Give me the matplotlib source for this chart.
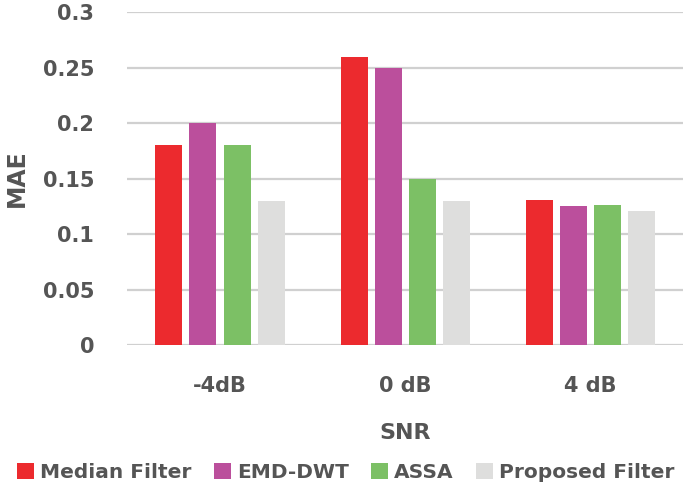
import numpy as np
import matplotlib.pyplot as plt

plt.rcParams['font.family'] = ['DejaVu Sans']

snr = ['-4dB', '0 dB', '4 dB']
median_filter = [0.18, 0.26, 0.131]
emd_dwt = [0.20, 0.25, 0.125]
assa = [0.18, 0.15, 0.126]
proposed = [0.13, 0.13, 0.121]

series = [median_filter, emd_dwt, assa, proposed]
names = ['Median Filter', 'EMD-DWT', 'ASSA', 'Proposed Filter']
colors = ['#ec2a2e', '#bb4f9c', '#7cc065', '#dededd']
gray = '#555555'

fig = plt.figure(figsize=(6.85, 4.88), dpi=100)
ax = fig.add_axes([0.186, 0.293, 0.811, 0.682])

x = np.arange(len(snr))
w = 0.146
pitch = 0.184
for i, (vals, name, c) in enumerate(zip(series, names, colors)):
    ax.bar(x + (i - 1.5) * pitch, vals, w, color=c, label=name, zorder=3)

ax.set_xlim(-0.5, 2.5)
ax.set_ylim(0, 0.3)
ax.set_yticks(np.arange(0, 0.31, 0.05))
ax.set_yticklabels(['0', '0.05', '0.1', '0.15', '0.2', '0.25', '0.3'])
ax.set_xticks(x)
ax.set_xticklabels(snr)
ax.grid(axis='y', color='#d0d0d0', linewidth=1.6, zorder=0)
for s in ['top', 'right', 'left', 'bottom']:
    ax.spines[s].set_visible(False)
ax.tick_params(length=0, labelsize=15, labelcolor=gray)
for t in ax.get_xticklabels() + ax.get_yticklabels():
    t.set_fontweight('bold')
ax.tick_params(axis='y', pad=24)
ax.tick_params(axis='x', pad=22)

ax.set_xlabel('SNR', fontsize=16, fontweight='bold', color=gray, labelpad=20)
ax.set_ylabel('MAE', fontsize=17, fontweight='bold', color=gray, labelpad=10)

leg = fig.legend(loc='lower center', bbox_to_anchor=(0.505, -0.025), ncol=4, frameon=False,
                 handlelength=0.85, handleheight=0.85, handletextpad=0.3, columnspacing=1.1,
                 prop={'size': 14.5, 'weight': 'bold'})
for t in leg.get_texts():
    t.set_color(gray)

fig.savefig('out.png', dpi=100)
